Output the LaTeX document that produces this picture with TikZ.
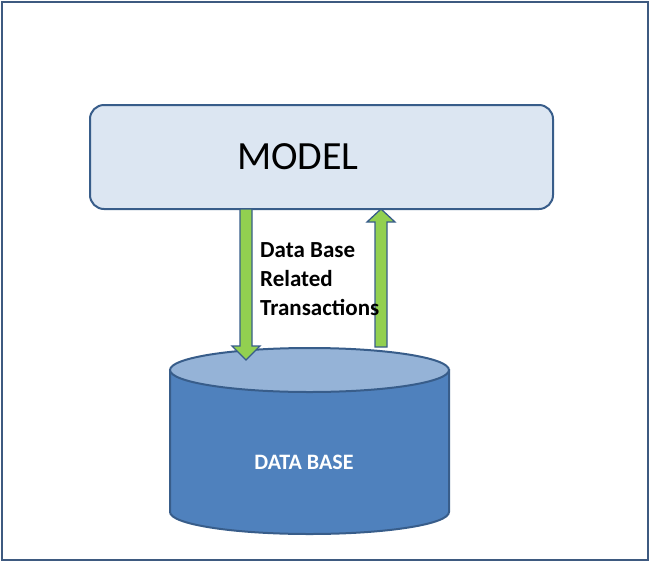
\documentclass[tikz,border=0pt]{standalone}
\usepackage{fontspec}
\setmainfont{Carlito}
\begin{document}
\begin{tikzpicture}[x=1pt,y=-1pt]
\definecolor{frame}{RGB}{62,90,128}
\definecolor{mfill}{RGB}{220,230,242}
\definecolor{cyl}{RGB}{79,129,189}
\definecolor{cyltop}{RGB}{149,179,215}
\definecolor{cylline}{RGB}{56,93,138}
\definecolor{grn}{RGB}{146,208,80}
\tikzset{arr/.style={fill=grn,draw=cylline,line width=1.3pt}}
\useasboundingbox (0,0) rectangle (651,563);
\draw[frame,line width=2pt] (2,2) rectangle (648,560);
\node[draw=cylline,line width=2pt,fill=mfill,rounded corners=14pt,minimum width=463pt,minimum height=104pt] (model) at (321.5,157) {};
\node[font=\fontsize{40}{42}\selectfont] (mt) at (298,157) {MODEL};
% cylinder
\coordinate (cyl) at (309.5,370);
\fill[cyl,draw=cylline,line width=2pt] (170,370) -- (170,512) arc[start angle=180,end angle=0,x radius=139.5,y radius=22] -- (449,370) -- cycle;
\draw[cylline,line width=2pt,fill=cyltop] (cyl) ellipse[x radius=139.5,y radius=22];
\node[white,font=\bfseries\fontsize{22}{24}\selectfont] (db) at (304,462) {DATA BASE};
% arrows
\filldraw[arr] (240,209) -- (252,209) -- (252,346) -- (260,346) -- (246,360) -- (232,346) -- (240,346) -- cycle;
\filldraw[arr] (375,347) -- (387,347) -- (387,222) -- (395,222) -- (381,209) -- (367,222) -- (375,222) -- cycle;
\node[anchor=north west,align=left,font=\bfseries\fontsize{23}{29}\selectfont,inner sep=0pt] (lbl) at (260,242) {Data Base\\Related\\Transactions};
\end{tikzpicture}
\end{document}
